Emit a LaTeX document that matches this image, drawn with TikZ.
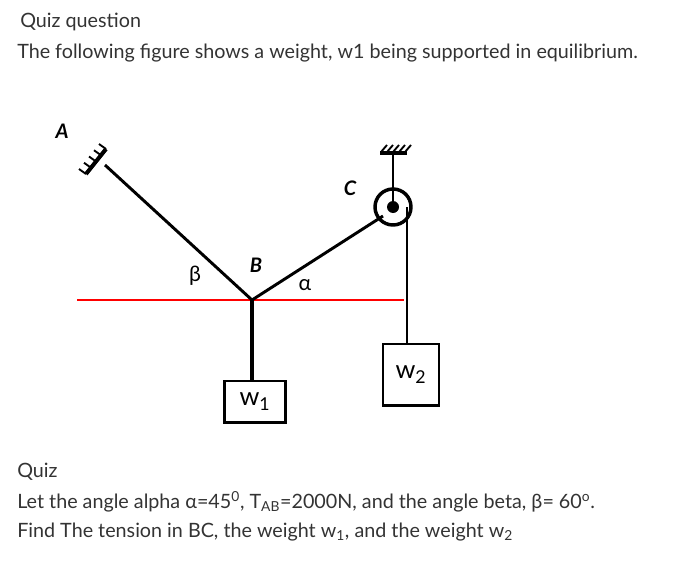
\documentclass[tikz,border=0pt]{standalone}
\usepackage{fontspec}
\setmainfont{Lato}
\usetikzlibrary{positioning,calc}
\tikzset{
  member/.style={line width=2.2pt},
  box/.style={draw,line width=1.8pt,inner sep=0pt,font=\fontsize{19}{19}\selectfont},
  lbl/.style={font=\bfseries\itshape\fontsize{15}{15}\selectfont},
  greek/.style={font=\fontsize{16}{16}\selectfont},
  txt/.style={anchor=west,inner sep=0pt,font=\fontsize{14.8}{17}\selectfont,text=black!80}
}
\begin{document}
\begin{tikzpicture}[x=0.75pt,y=-0.75pt]
\useasboundingbox (0,0) rectangle (674,564);
% heading
\node[txt] (title) at (20,22) {Quiz question};
\node[txt] (intro) at (17,53) {The following figure shows a weight, w1 being supported in equilibrium.};
% points
\coordinate (A) at (105,165);
\coordinate (B) at (252,300);
\coordinate (P) at (393,207);
\coordinate (top) at (393,153);
% supports
\draw[line width=3pt] (86,174) -- (106,149);
\foreach \t in {0,0.25,0.5,0.75,1}
  \draw[line width=1.4pt] ($(86,174)!\t!(106,149)$) -- ++(-7,-5);
\draw[line width=2.4pt] (380,153) -- (407,153);
\foreach \t in {0,0.25,0.5,0.75,1}
  \draw[line width=1.4pt] ($(381,152)!\t!(405,152)$) -- ++(6,-7);
% red horizontal
\draw[red,line width=0.9pt] (77,300) -- (404,300);
% members
\draw[member] (A) -- (B);
\draw[member] (B) -- ($(P)+(-10,9)$);
\draw[member] (top) -- (P);
\draw[member] (407,207) -- (407,343);
\draw[line width=3.6pt] (B) -- (252,380);
\node[circle,draw,line width=2.6pt,minimum size=27pt,inner sep=0pt] (pulley) at (P) {};
\fill (P) circle (4.5pt);
% weights
\node[box,anchor=north,minimum width=46pt,minimum height=31pt] (w1) at (255,380) {w\textsubscript{1}};
\node[box,anchor=north,minimum width=42pt,minimum height=46pt] (w2) at (411,343) {w\textsubscript{2}};
% labels
\node[lbl] (la) at (62,131) {A};
\node[lbl] (lc) at (350,188) {C};
\node[lbl] (lb) at (256,265) {B};
\node[greek] (beta) at (195,276) {β};
\node[greek] (alpha) at (305,285) {α};
% question
\node[txt] (quiz) at (17,472) {Quiz};
\node[txt] (let) at (17,502) {Let the angle alpha α=45\textsuperscript{0}, T\textsubscript{AB}=2000N, and the angle beta, β= 60\textsuperscript{o}.};
\node[txt] (find) at (17,532) {Find The tension in BC, the weight w\textsubscript{1}, and the weight w\textsubscript{2}};
\end{tikzpicture}
\end{document}
